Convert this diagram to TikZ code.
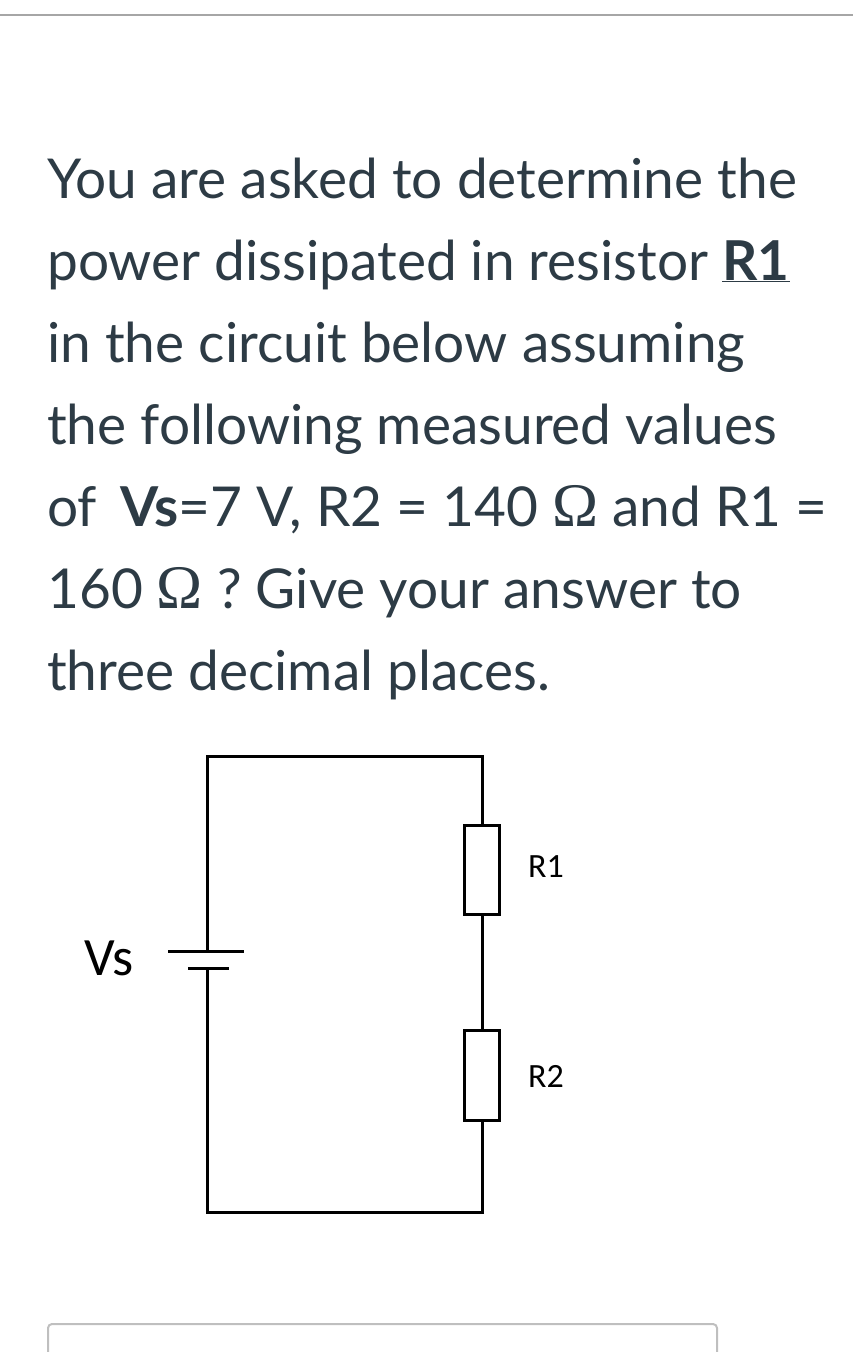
\documentclass[tikz,border=0pt]{standalone}
\usepackage{fontspec}
\setmainfont{Lato}
\newfontfamily\carlitofont{Carlito}
\newfontfamily\omfont{Liberation Serif}
\usepackage{xcolor}
\definecolor{txt}{HTML}{2D3B45}
\begin{document}
\begin{tikzpicture}[x=1pt,y=-1pt,
  wire/.style={line width=3pt},
  txtline/.style={anchor=base west,inner sep=0pt,text=txt,font=\fontsize{55}{60}\selectfont},
  lab/.style={inner sep=0pt,font=\carlitofont\fontsize{34}{40}\selectfont}]
\useasboundingbox (0,0) rectangle (853,1352);
\draw[line width=2pt,gray!70] (0,15) -- (853,15);
\node[txtline] (l1) at (47,198) {You are asked to determine the};
\node[txtline] (l2) at (47,280) {power dissipated in resistor \textbf{\underline{R1}}};
\node[txtline] (l3) at (47,362) {in the circuit below assuming};
\node[txtline] (l4) at (47,444) {the following measured values};
\node[txtline] (l5) at (47,526) {of\, \textbf{Vs}=7 V, R2 = 140 {\omfont\fontsize{62}{60}\selectfont Ω} and R1 =};
\node[txtline] (l6) at (47,608) {160 {\omfont\fontsize{62}{60}\selectfont Ω} ? Give your answer to};
\node[txtline] (l7) at (47,690) {three decimal places.};
% circuit
\coordinate (tl) at (207,756);
\coordinate (tr) at (482,756);
\coordinate (bl) at (207,1212);
\coordinate (br) at (482,1212);
\node[wire,draw,minimum width=35pt,minimum height=89pt,inner sep=0pt] (r1) at (482,870) {};
\node[wire,draw,minimum width=35pt,minimum height=90pt,inner sep=0pt] (r2) at (482,1075) {};
\coordinate (bp) at (207,951);
\coordinate (bn) at (207,968);
\draw[wire] (bp) -- (tl) -- (tr) -- (r1.north);
\draw[wire] (r1.south) -- (r2.north);
\draw[wire] (r2.south) -- (br) -- (bl) -- (bn);
\draw[wire] (168,951) -- (244,951);
\draw[wire] (188,968) -- (229,968);
\node[lab,anchor=base west,font=\carlitofont\fontsize{54}{60}\selectfont] (vs) at (84,975) {Vs};
\node[lab,anchor=west] (lr1) at (528,867) {R1};
\node[lab,anchor=west] (lr2) at (528,1076) {R2};
\draw[gray!50,line width=2pt,rounded corners=4pt] (48,1360) -- (48,1324) -- (717,1324) -- (717,1360);
\end{tikzpicture}
\end{document}
